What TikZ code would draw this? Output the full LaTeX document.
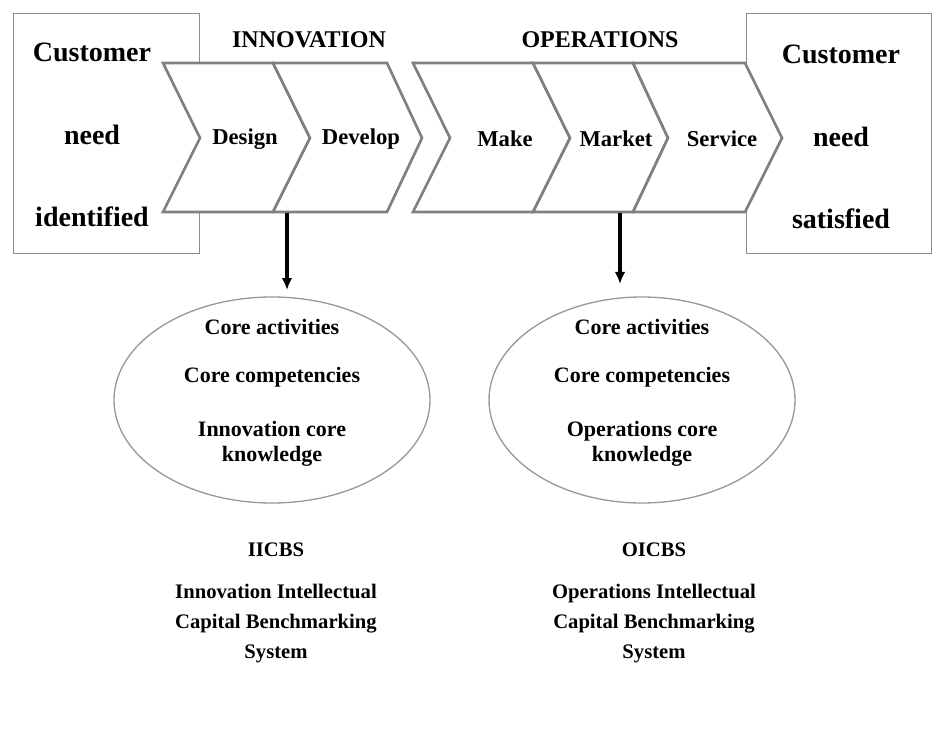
\documentclass[tikz,border=0pt]{standalone}
\usetikzlibrary{shapes.geometric,arrows.meta}
\usepackage{fontspec}
\setmainfont{Liberation Serif}
\begin{document}
\begin{tikzpicture}[x=0.75pt,y=-0.75pt,
  box/.style={draw=gray!90,line width=1pt},
  chev/.style={draw=gray,line width=2pt,fill=white,line join=miter},
  big/.style={font=\fontsize{21}{28}\selectfont\bfseries,align=center},
  lab/.style={font=\fontsize{17}{20}\selectfont\bfseries},
  ell/.style={draw=gray!80,line width=1pt},
  etxt/.style={font=\fontsize{16.5}{20}\selectfont\bfseries,align=center},
  btxt/.style={font=\fontsize{15.5}{22.5}\selectfont\bfseries,align=center},
  arr/.style={-{Latex[length=9pt,width=8pt]},line width=2.5pt}]
\useasboundingbox (0,0) rectangle (937,741);
\node[box,minimum width=186pt*0.75,minimum height=240pt*0.75,anchor=north west] (lb) at (13,13) {};
\node[box,minimum width=185pt*0.75,minimum height=240pt*0.75,anchor=north west] (rb) at (746,13) {};
\node[big] (lt1) at (92,52) {Customer};
\node[big] (lt2) at (92,135) {need};
\node[big] (lt3) at (92,217) {identified};
\node[big] (rt1) at (841,54) {Customer};
\node[big] (rt2) at (841,137) {need};
\node[big] (rt3) at (841,219) {satisfied};
\draw[chev] (163,63)--(273,63)--(310,138)--(273,212)--(163,212)--(200,138)--cycle;
\draw[chev] (273,63)--(387,63)--(422,138)--(387,212)--(273,212)--(310,138)--cycle;
\draw[chev] (413,63)--(533,63)--(570,138)--(533,212)--(413,212)--(450,138)--cycle;
\draw[chev] (533,63)--(633,63)--(668,138)--(633,212)--(533,212)--(570,138)--cycle;
\draw[chev] (633,63)--(745,63)--(782,138)--(745,212)--(633,212)--(668,138)--cycle;
\node[lab] (d1) at (245,139) {Design};
\node[lab] (d2) at (361,139) {Develop};
\node[lab] (d3) at (505,139) {Make};
\node[lab] (d4) at (616,139) {Market};
\node[lab] (d5) at (722,139) {Service};
\node[font=\fontsize{18}{20}\selectfont\bfseries] (inn) at (309,40) {INNOVATION};
\node[font=\fontsize{18}{20}\selectfont\bfseries] (ops) at (600,40) {OPERATIONS};
\coordinate (a1) at (287,213); \coordinate (a2) at (620,213);
\node[ell,ellipse,minimum width=316pt*0.75,minimum height=206pt*0.75] (e1) at (272,400) {};
\node[ell,ellipse,minimum width=306pt*0.75,minimum height=206pt*0.75] (e2) at (642,400) {};
\coordinate (b1) at (287,290); \coordinate (b2) at (620,284);
\draw[arr] (a1)--(b1);
\draw[arr] (a2)--(b2);
\node[etxt] (t11) at (272,327) {Core activities};
\node[etxt] (t12) at (272,377) {Core competencies};
\node[etxt] (t13) at (272,444) {Innovation core\\[-1pt]knowledge};
\node[etxt] (t21) at (642,327) {Core activities};
\node[etxt] (t22) at (642,377) {Core competencies};
\node[etxt] (t23) at (642,444) {Operations core\\[-1pt]knowledge};
\node[btxt] (s1) at (276,550) {IICBS};
\node[btxt] (s2) at (654,550) {OICBS};
\node[btxt] (l1) at (276,624) {Innovation Intellectual\\Capital Benchmarking\\System};
\node[btxt] (l2) at (654,624) {Operations Intellectual\\Capital Benchmarking\\System};
\end{tikzpicture}
\end{document}
